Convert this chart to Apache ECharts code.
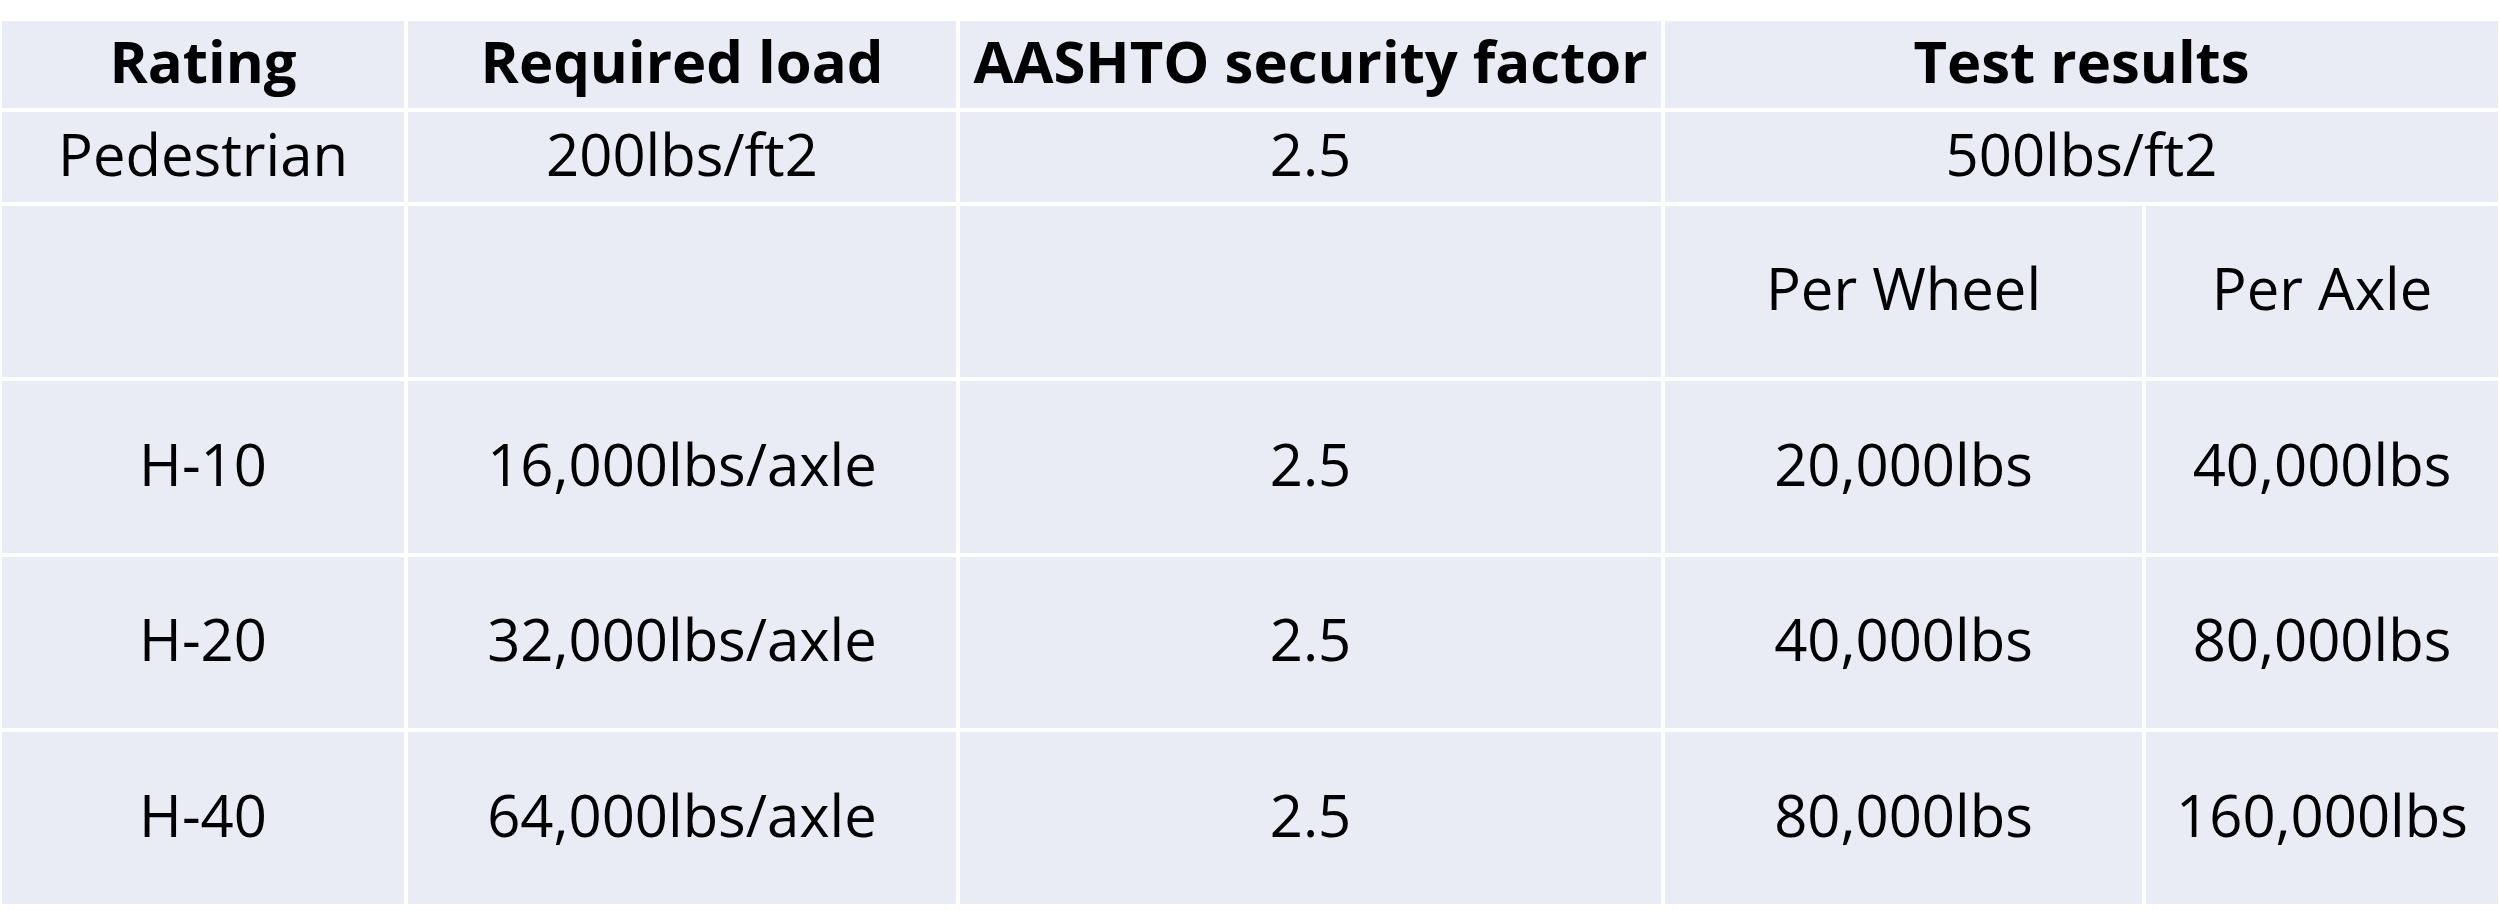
<!DOCTYPE html>
<html><head><meta charset="utf-8">
<script src="https://cdn.jsdelivr.net/npm/echarts@6/dist/echarts.min.js"></script>
<style>html,body{margin:0;padding:0;background:#fff}#c{width:2500px;height:911px}</style>
</head><body><div id="c"></div>
<script>
const headers = ["Rating","Required load","AASHTO security factor","Test results"];
const pedestrian = ["Pedestrian","200lbs/ft2","2.5","500lbs/ft2"];
const subHeaders = ["Per Wheel","Per Axle"];
const ratings = ["H-10","H-20","H-40"];
const requiredLoad = ["16,000lbs/axle","32,000lbs/axle","64,000lbs/axle"];
const factor = ["2.5","2.5","2.5"];
const perWheel = ["20,000lbs","40,000lbs","80,000lbs"];
const perAxle = ["40,000lbs","80,000lbs","160,000lbs"];

const colEdges = [0, 406, 958, 1663, 2144, 2500];
const rowEdges = [19, 110, 204, 379, 555, 730, 906];

// cells: [c0, c1, r0, r1, text, bold]
const cells = [];
headers.forEach((h,i)=>cells.push([i, i===3?5:i+1, 0, 1, h, 1]));
pedestrian.forEach((h,i)=>cells.push([i, i===3?5:i+1, 1, 2, h, 0]));
cells.push([0,1,2,3,"",0],[1,2,2,3,"",0],[2,3,2,3,"",0]);
subHeaders.forEach((h,i)=>cells.push([3+i, 4+i, 2, 3, h, 0]));
ratings.forEach((r,i)=>{
  const row = 3+i;
  [r, requiredLoad[i], factor[i], perWheel[i], perAxle[i]].forEach((t,c)=>cells.push([c,c+1,row,row+1,t,0]));
});

const chart = echarts.init(document.getElementById('c'));
chart.setOption({
  animation:false,
  grid:{left:0,right:0,top:0,bottom:0},
  xAxis:{type:'value',min:0,max:2500,show:false},
  yAxis:{type:'value',min:0,max:911,inverse:true,show:false},
  series:[{
    type:'custom',
    data:cells,
    encode:{x:[0,1],y:[2,3]},
    renderItem:function(params, api){
      const c0=api.value(0), c1=api.value(1), r0=api.value(2), r1=api.value(3);
      const d = cells[params.dataIndex];
      const p0 = api.coord([colEdges[c0], rowEdges[r0]]);
      const p1 = api.coord([colEdges[c1], rowEdges[r1]]);
      const g = 2;
      return {type:'group',children:[
        {type:'rect',shape:{x:p0[0]+g,y:p0[1]+g,width:p1[0]-p0[0]-2*g,height:p1[1]-p0[1]-2*g},style:{fill:'#E9EBF5'}},
        {type:'text',style:{text:d[4],x:(p0[0]+p1[0])/2,y:(p0[1]+p1[1])/2+2,align:'center',verticalAlign:'middle',
          font:(d[5]?'bold ':'')+'58px "Open Sans", sans-serif',fill:'#000'}}
      ]};
    }
  }]
});
</script></body></html>
